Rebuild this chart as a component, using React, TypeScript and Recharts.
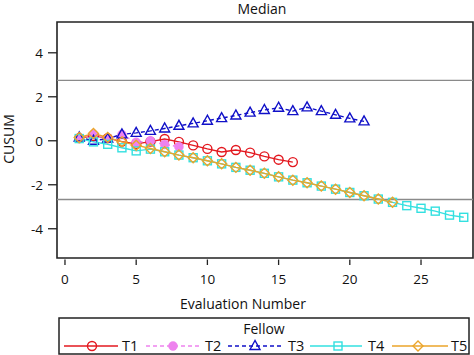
import { LineChart, Line, XAxis, YAxis, ReferenceLine, ReferenceArea } from 'recharts';

const evalNums = [1, 2, 3, 4, 5, 6, 7, 8, 9, 10, 11, 12, 13, 14, 15, 16, 17, 18, 19, 20, 21, 22, 23, 24, 25, 26, 27, 28];
const t1 = [0.12, 0.22, 0.12, -0.04, -0.14, -0.04, 0.08, -0.05, -0.21, -0.37, -0.51, -0.42, -0.54, -0.71, -0.86, -0.97];
const t2 = [0.12, 0.3, 0.1, 0.28, -0.07, 0.0, -0.17, -0.27];
const t3 = [0.15, 0.0, 0.1, 0.29, 0.36, 0.45, 0.56, 0.68, 0.79, 0.91, 1.03, 1.15, 1.28, 1.4, 1.5, 1.35, 1.52, 1.35, 1.18, 1.02, 0.88];
const t4 = [0.1, -0.05, -0.16, -0.32, -0.46, -0.38, -0.5, -0.65, -0.77, -0.91, -1.05, -1.21, -1.34, -1.48, -1.64, -1.79, -1.91, -2.06, -2.2, -2.35, -2.5, -2.65, -2.8, -2.95, -3.07, -3.2, -3.38, -3.48];
const t5 = [0.15, 0.33, 0.15, -0.05, -0.2, -0.35, -0.5, -0.65, -0.77, -0.91, -1.05, -1.21, -1.34, -1.48, -1.64, -1.79, -1.91, -2.06, -2.2, -2.35, -2.5, -2.65, -2.8];
const limits = [2.75, -2.67];
const xTicks = [0, 5, 10, 15, 20, 25];
const yTicks = [-4, -2, 0, 2, 4];

const FONT = '"Open Sans", sans-serif';

const series = [
  { key: 'T1', values: t1, color: '#e3181f', shape: 'circle', dash: undefined },
  { key: 'T2', values: t2, color: '#ee82ee', shape: 'dot', dash: '4 3' },
  { key: 'T3', values: t3, color: '#1010c8', shape: 'triangle', dash: '4 3' },
  { key: 'T4', values: t4, color: '#33e0e0', shape: 'square', dash: undefined },
  { key: 'T5', values: t5, color: '#eba52a', shape: 'diamond', dash: undefined },
];

const rows = evalNums.map((n, i) => {
  const row: Record<string, number | null> = { n };
  series.forEach((s) => {
    row[s.key] = i < s.values.length ? s.values[i] : null;
  });
  return row;
});

function Marker({ shape, color, cx, cy }: { shape: string; color: string; cx: number; cy: number }) {
  const sw = 1.4;
  if (shape === 'circle') return <circle cx={cx} cy={cy} r={4.5} fill="none" stroke={color} strokeWidth={sw} />;
  if (shape === 'dot') return <circle cx={cx} cy={cy} r={4.5} fill={color} stroke={color} strokeWidth={0.5} />;
  if (shape === 'triangle')
    return <polygon points={`${cx},${cy - 5.5} ${cx - 5},${cy + 3.5} ${cx + 5},${cy + 3.5}`} fill="none" stroke={color} strokeWidth={sw} />;
  if (shape === 'square') return <rect x={cx - 4} y={cy - 4} width={8} height={8} fill="none" stroke={color} strokeWidth={sw} />;
  return <polygon points={`${cx},${cy - 5} ${cx + 5},${cy} ${cx},${cy + 5} ${cx - 5},${cy}`} fill="none" stroke={color} strokeWidth={sw} />;
}

const makeDot = (shape: string, color: string) => (props: any) => {
  const { cx, cy, index, value } = props;
  if (value == null || cx == null || cy == null) return <g key={index} />;
  return (
    <g key={index}>
      <Marker shape={shape} color={color} cx={cx} cy={cy} />
    </g>
  );
};

const XTick = (props: any) => {
  const { x, y, payload } = props;
  return (
    <g>
      <line x1={x} x2={x} y1={y + 1.5} y2={y + 7} stroke="#222" strokeWidth={1.3} />
      <text x={x} y={y + 26} textAnchor="middle" fontSize={13.5} fontFamily={FONT} fill="#111">
        {payload.value}
      </text>
    </g>
  );
};

const legendItems = [
  { x1: 64, x2: 118, mx: 92, lx: 122 },
  { x1: 146, x2: 201, mx: 173, lx: 205 },
  { x1: 228, x2: 284, mx: 255, lx: 288 },
  { x1: 310, x2: 362, mx: 338, lx: 368 },
  { x1: 392, x2: 448, mx: 418, lx: 451 },
];

export default function App() {
  return (
    <div style={{ position: 'absolute', left: 0, top: 0, width: 474, height: 355, background: '#fff' }}>
      <LineChart width={474} height={355} data={rows} margin={{ top: 22, right: 1, left: 7, bottom: 57 }}>
        <XAxis
          dataKey="n"
          type="number"
          domain={[-0.56, 28.65]}
          ticks={xTicks}
          allowDataOverflow
          axisLine={false}
          tickLine={false}
          tickSize={0}
          tickMargin={0}
          height={40}
          tick={<XTick />}
          interval={0}
        />
        <YAxis
          type="number"
          domain={[-5.33, 5.4]}
          ticks={yTicks}
          allowDataOverflow
          axisLine={false}
          tickSize={9}
          tickMargin={5}
          width={50}
          interval={0}
          tickLine={{ stroke: '#222', strokeWidth: 1.3 }}
          tick={{ fill: '#111', fontSize: 13.5, fontFamily: FONT }}
        />
        <ReferenceArea x1={-0.56} x2={28.65} y1={-5.33} y2={5.4} fill="none" stroke="#222" strokeWidth={1.6} ifOverflow="visible" />
        {limits.map((v) => (
          <ReferenceLine key={v} y={v} stroke="#8a8a8a" strokeWidth={1.3} />
        ))}
        {series.map((s) => (
          <Line
            key={s.key}
            dataKey={s.key}
            type="linear"
            stroke={s.color}
            strokeWidth={1.4}
            strokeDasharray={s.dash}
            dot={makeDot(s.shape, s.color)}
            activeDot={false}
            isAnimationActive={false}
            connectNulls={false}
          />
        ))}
      </LineChart>
      <svg width={474} height={355} style={{ position: 'absolute', left: 0, top: 0, pointerEvents: 'none' }}>
        <text x={262} y={14} textAnchor="middle" fontSize={14} fontFamily={FONT} fill="#111">
          Median
        </text>
        <text x={14} y={139} textAnchor="middle" fontSize={14} fontFamily={FONT} fill="#111" transform="rotate(-90 14 139)">
          CUSUM
        </text>
        <text x={243} y={309} textAnchor="middle" fontSize={14} fontFamily={FONT} fill="#111">
          Evaluation Number
        </text>
        <rect x={59} y={318} width={410} height={36} fill="none" stroke="#222" strokeWidth={1.5} />
        <text x={264} y={334} textAnchor="middle" fontSize={14} fontFamily={FONT} fill="#111">
          Fellow
        </text>
        {series.map((s, i) => {
          const it = legendItems[i];
          return (
            <g key={s.key}>
              <line x1={it.x1} x2={it.x2} y1={346} y2={346} stroke={s.color} strokeWidth={1.4} strokeDasharray={s.dash} />
              <Marker shape={s.shape} color={s.color} cx={it.mx} cy={346} />
              <text x={it.lx} y={351} fontSize={14.5} fontFamily={FONT} fill="#111">
                {s.key}
              </text>
            </g>
          );
        })}
      </svg>
    </div>
  );
}
